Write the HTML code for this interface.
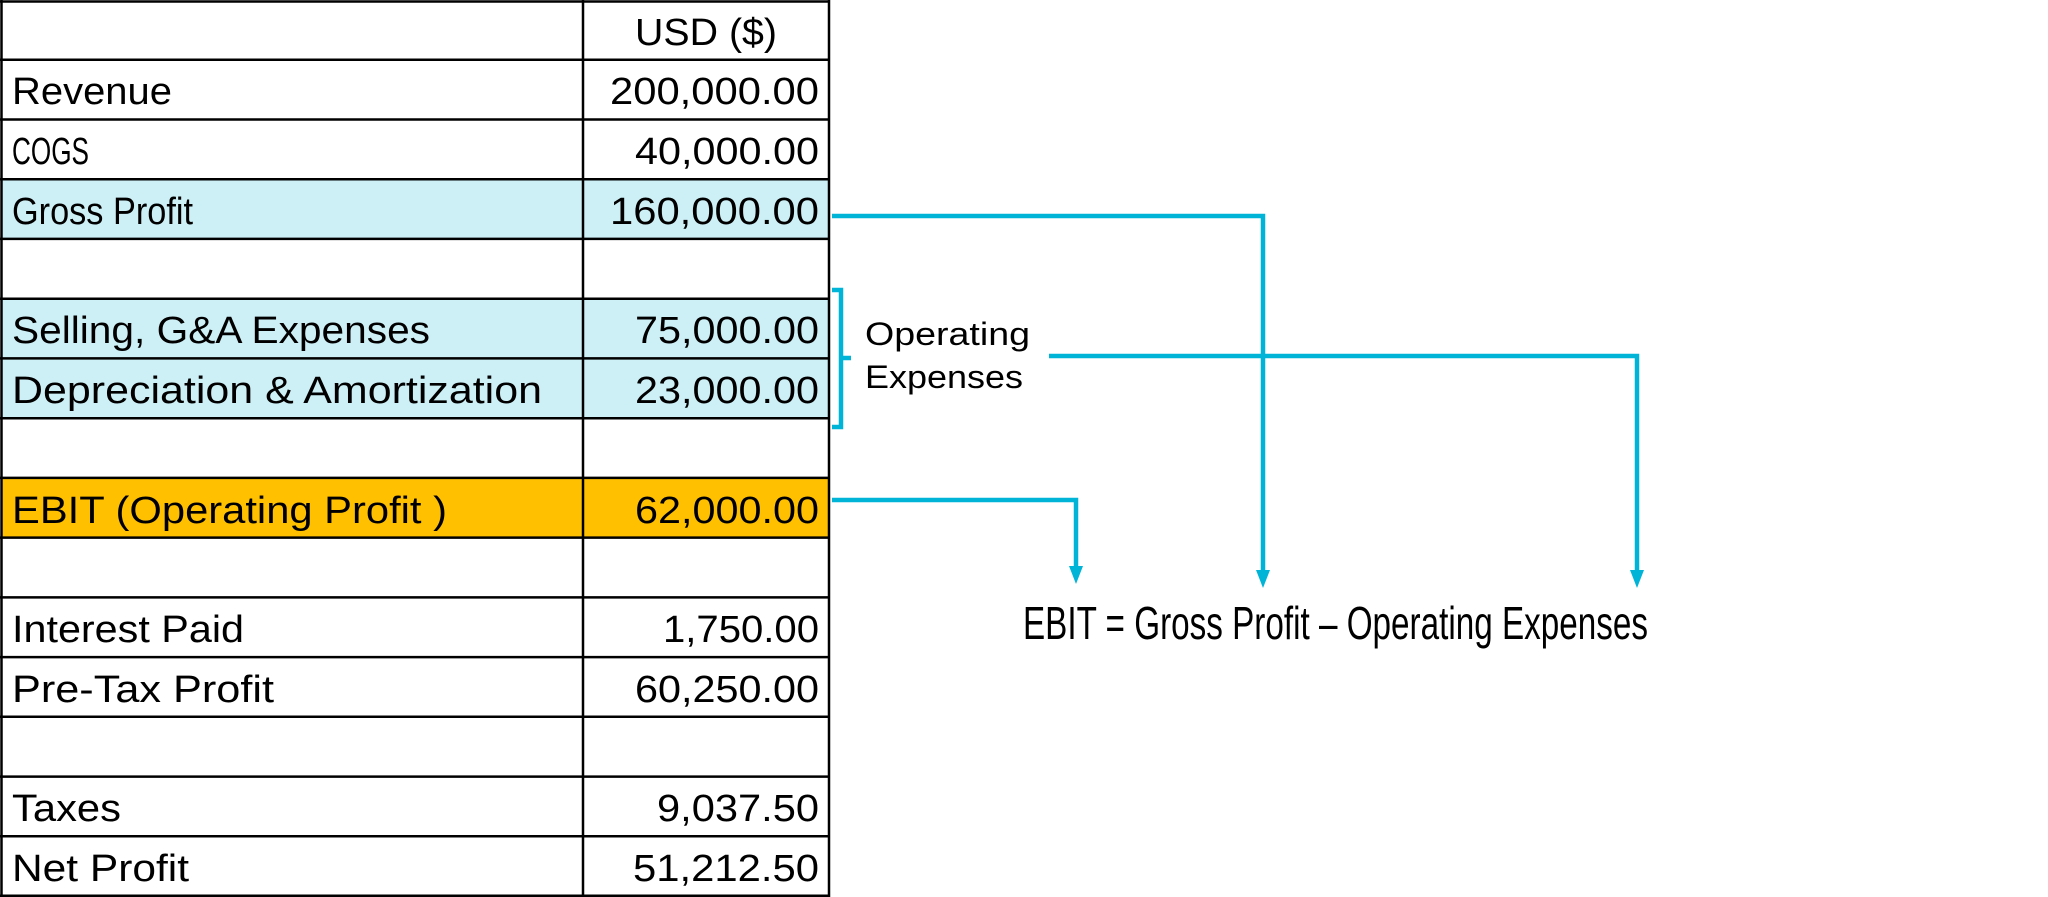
<!DOCTYPE html>
<html><head><meta charset="utf-8"><style>html,body{margin:0;padding:0;background:#fff}svg{display:block}</style></head>
<body>
<svg width="2048" height="897" viewBox="0 0 2048 897" xmlns="http://www.w3.org/2000/svg" font-family="'Liberation Sans', sans-serif" fill="#000">
<rect x="1" y="179.2" width="828" height="59.7" fill="#ccf0f6"/>
<rect x="1" y="298.7" width="828" height="119.5" fill="#ccf0f6"/>
<rect x="1" y="477.9" width="828" height="59.7" fill="#ffc000"/>
<g stroke="#000" stroke-width="2.5">
<line x1="1.5" y1="0" x2="1.5" y2="897"/>
<line x1="583" y1="0" x2="583" y2="897"/>
<line x1="829" y1="0" x2="829" y2="897"/>
<line x1="0" y1="1.5" x2="830" y2="1.5"/>
<line x1="0" y1="59.7" x2="830" y2="59.7"/>
<line x1="0" y1="119.5" x2="830" y2="119.5"/>
<line x1="0" y1="179.2" x2="830" y2="179.2"/>
<line x1="0" y1="238.9" x2="830" y2="238.9"/>
<line x1="0" y1="298.7" x2="830" y2="298.7"/>
<line x1="0" y1="358.4" x2="830" y2="358.4"/>
<line x1="0" y1="418.2" x2="830" y2="418.2"/>
<line x1="0" y1="477.9" x2="830" y2="477.9"/>
<line x1="0" y1="537.6" x2="830" y2="537.6"/>
<line x1="0" y1="597.4" x2="830" y2="597.4"/>
<line x1="0" y1="657.1" x2="830" y2="657.1"/>
<line x1="0" y1="716.8" x2="830" y2="716.8"/>
<line x1="0" y1="776.6" x2="830" y2="776.6"/>
<line x1="0" y1="836.3" x2="830" y2="836.3"/>
<line x1="0" y1="895.8" x2="830" y2="895.8"/>
</g>
<g font-size="38">
<text x="635" y="45" textLength="142" lengthAdjust="spacingAndGlyphs">USD ($)</text>
<text x="12" y="104" textLength="160" lengthAdjust="spacingAndGlyphs">Revenue</text>
<text x="12" y="164" textLength="77" lengthAdjust="spacingAndGlyphs">COGS</text>
<text x="12" y="224" textLength="181" lengthAdjust="spacingAndGlyphs">Gross Profit</text>
<text x="12" y="343" textLength="418" lengthAdjust="spacingAndGlyphs">Selling, G&amp;A Expenses</text>
<text x="12" y="403" textLength="530" lengthAdjust="spacingAndGlyphs">Depreciation &amp; Amortization</text>
<text x="12" y="523" textLength="435" lengthAdjust="spacingAndGlyphs">EBIT (Operating Profit )</text>
<text x="12" y="642" textLength="232" lengthAdjust="spacingAndGlyphs">Interest Paid</text>
<text x="12" y="702" textLength="262" lengthAdjust="spacingAndGlyphs">Pre-Tax Profit</text>
<text x="12" y="821" textLength="109" lengthAdjust="spacingAndGlyphs">Taxes</text>
<text x="12" y="881" textLength="177" lengthAdjust="spacingAndGlyphs">Net Profit</text>
<text x="610" y="104" textLength="209" lengthAdjust="spacingAndGlyphs">200,000.00</text>
<text x="635" y="164" textLength="184" lengthAdjust="spacingAndGlyphs">40,000.00</text>
<text x="610" y="224" textLength="209" lengthAdjust="spacingAndGlyphs">160,000.00</text>
<text x="635" y="343" textLength="184" lengthAdjust="spacingAndGlyphs">75,000.00</text>
<text x="635" y="403" textLength="184" lengthAdjust="spacingAndGlyphs">23,000.00</text>
<text x="635" y="523" textLength="184" lengthAdjust="spacingAndGlyphs">62,000.00</text>
<text x="663" y="642" textLength="156" lengthAdjust="spacingAndGlyphs">1,750.00</text>
<text x="635" y="702" textLength="184" lengthAdjust="spacingAndGlyphs">60,250.00</text>
<text x="657" y="821" textLength="162" lengthAdjust="spacingAndGlyphs">9,037.50</text>
<text x="633" y="881" textLength="186" lengthAdjust="spacingAndGlyphs">51,212.50</text>
</g>
<path d="M832 290 H841 V427 H832 M841 358 H851" fill="none" stroke="#00b4d8" stroke-width="4.5"/>
<text x="865" y="345" font-size="32" textLength="165" lengthAdjust="spacingAndGlyphs">Operating</text>
<text x="865" y="388" font-size="32" textLength="158" lengthAdjust="spacingAndGlyphs">Expenses</text>
<g fill="none" stroke="#00b4d8" stroke-width="4.5">
<path d="M832 216 H1263 V572"/>
<path d="M1049 356 H1637 V572"/>
<path d="M832 500 H1076 V568"/>
</g>
<g fill="#00b4d8">
<polygon points="1256,570 1270,570 1263,588"/>
<polygon points="1630,570 1644,570 1637,588"/>
<polygon points="1069,566 1083,566 1076,584"/>
</g>
<text x="1023" y="639" font-size="46" textLength="625" lengthAdjust="spacingAndGlyphs">EBIT = Gross Profit – Operating Expenses</text>
</svg>
</body></html>
